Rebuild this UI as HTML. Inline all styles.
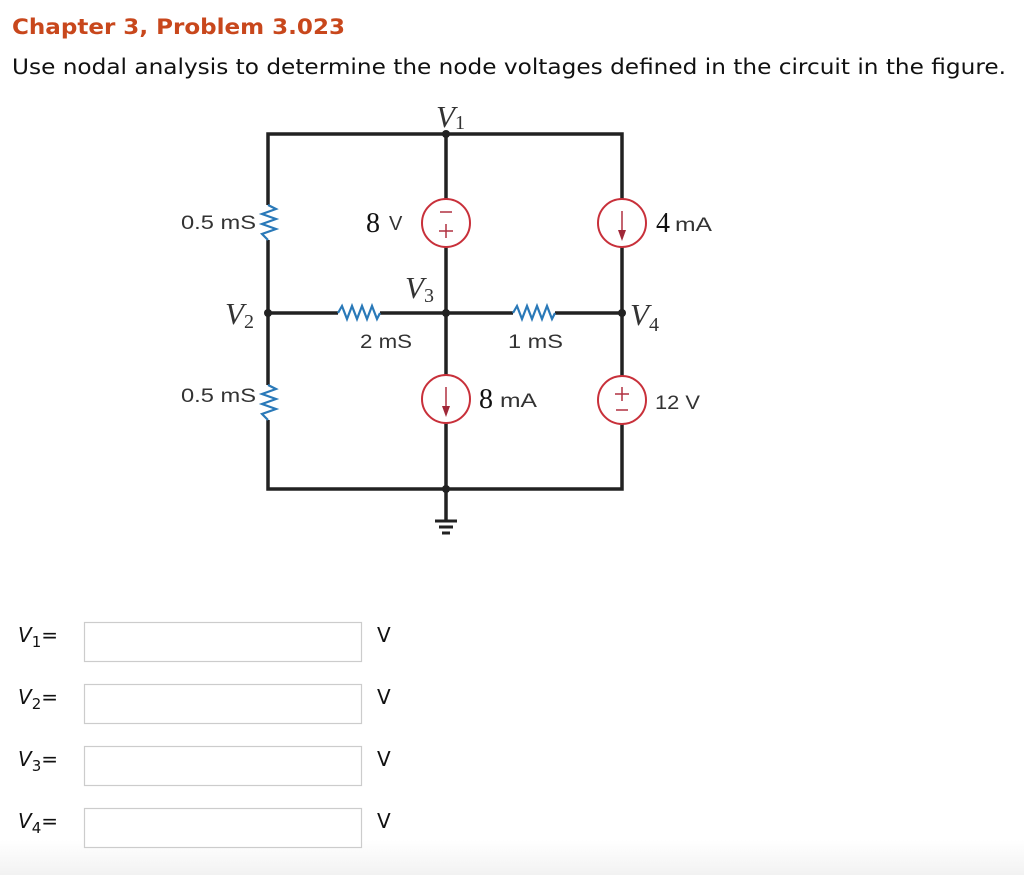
<!DOCTYPE html>
<html><head><meta charset="utf-8"><style>
html,body{margin:0;padding:0;background:#fff;}
svg{display:block;}
</style></head><body>
<svg width="1024" height="875" xmlns="http://www.w3.org/2000/svg">
<defs><linearGradient id="g" x1="0" y1="0" x2="0" y2="1"><stop offset="0" stop-color="#fff"/><stop offset="1" stop-color="#f2f2f2"/></linearGradient></defs>
<rect x="0" y="840" width="1024" height="35" fill="url(#g)"/>
<text x="12" y="34" font-family="DejaVu Sans, sans-serif" font-weight="bold" font-size="21" fill="#c8471c" textLength="333" lengthAdjust="spacingAndGlyphs">Chapter 3, Problem 3.023</text>
<text x="12" y="74" font-family="DejaVu Sans, sans-serif" font-size="21" fill="#111" textLength="994" lengthAdjust="spacingAndGlyphs">Use nodal analysis to determine the node voltages defined in the circuit in the figure.</text>
<g stroke="#222" stroke-width="3.5" fill="none">
<polyline points="268,205 268,134 622,134 622,199"/>
<line x1="446" y1="134" x2="446" y2="199"/>
<line x1="268" y1="240" x2="268" y2="385"/>
<polyline points="268,420 268,489 622,489 622,424"/>
<line x1="446" y1="247" x2="446" y2="375"/>
<line x1="446" y1="423" x2="446" y2="520"/>
<line x1="622" y1="247" x2="622" y2="376"/>
<line x1="268" y1="313" x2="338" y2="313"/>
<line x1="380" y1="313" x2="513" y2="313"/>
<line x1="555" y1="313" x2="622" y2="313"/>
</g>
<g stroke="#222" stroke-width="3"><line x1="435" y1="521" x2="457" y2="521"/><line x1="439" y1="527" x2="453" y2="527"/><line x1="442" y1="533" x2="450" y2="533"/></g>
<g fill="#222"><circle cx="446" cy="134" r="4"/><circle cx="268" cy="313" r="4"/><circle cx="446" cy="313" r="4"/><circle cx="622" cy="313" r="4"/><circle cx="446" cy="489" r="4"/></g>
<g stroke="#2a79b8" stroke-width="2.2" fill="none">
<polyline points="268,205 276,209 262,214 276,219 262,224 276,229 262,234 268,240"/>
<polyline points="268,385 276,389 262,394 276,399 262,404 276,409 262,414 268,420"/>
<polyline points="338,313 342,306 347,319 352,306 357,319 362,306 367,319 372,306 377,319 380,313"/>
<polyline points="513,313 517,306 522,319 527,306 532,319 537,306 542,319 547,306 552,319 555,313"/>
</g>
<g stroke="#c8303a" stroke-width="2" fill="#fff">
<circle cx="446" cy="223" r="24"/><circle cx="622" cy="223" r="24"/><circle cx="446" cy="399" r="24"/><circle cx="622" cy="400" r="24"/>
</g>
<g stroke="#b03040" stroke-width="1.5">
<line x1="440" y1="212" x2="452" y2="212"/><line x1="439" y1="231" x2="453" y2="231"/><line x1="446" y1="224" x2="446" y2="238"/>
<line x1="622" y1="211" x2="622" y2="232"/><line x1="446" y1="387" x2="446" y2="408"/>
<line x1="615" y1="394" x2="629" y2="394"/><line x1="622" y1="387" x2="622" y2="401"/><line x1="616" y1="410" x2="628" y2="410"/>
</g>
<g fill="#a02838"><polygon points="618,230 626,230 622,241"/><polygon points="442,406 450,406 446,417"/></g>
<g font-family="Liberation Sans, sans-serif" font-size="19" fill="#333" lengthAdjust="spacingAndGlyphs">
<text x="181" y="229" textLength="75" lengthAdjust="spacingAndGlyphs">0.5 mS</text><text x="181" y="402" textLength="75" lengthAdjust="spacingAndGlyphs">0.5 mS</text>
<text x="360" y="348" textLength="52" lengthAdjust="spacingAndGlyphs">2 mS</text><text x="508" y="348" textLength="55" lengthAdjust="spacingAndGlyphs">1 mS</text>
<text x="655" y="409" textLength="45" lengthAdjust="spacingAndGlyphs">12 V</text>
<text x="389" y="230" font-size="20">V</text>
<text x="675" y="231" textLength="37" lengthAdjust="spacingAndGlyphs">mA</text><text x="500" y="407" textLength="37" lengthAdjust="spacingAndGlyphs">mA</text>
</g>
<g font-family="Liberation Serif, serif" fill="#111">
<text x="366" y="232" font-size="28">8</text><text x="656" y="232" font-size="28">4</text><text x="479" y="408" font-size="28">8</text>
</g>
<g font-family="Liberation Serif, serif" font-style="italic" font-size="31" fill="#333">
<text x="436" y="127">V<tspan font-size="20" font-style="normal" dy="2">1</tspan></text>
<text x="225" y="324">V<tspan font-size="20" font-style="normal" dy="4">2</tspan></text>
<text x="405" y="298">V<tspan font-size="20" font-style="normal" dy="4">3</tspan></text>
<text x="630" y="325">V<tspan font-size="20" font-style="normal" dy="6">4</tspan></text>
</g>
<g font-family="DejaVu Sans, sans-serif" font-size="20" fill="#111">
<text x="18" y="642"><tspan font-style="italic">V</tspan><tspan font-size="15" dy="5">1</tspan><tspan dy="-5">=</tspan></text>
<text x="18" y="704"><tspan font-style="italic">V</tspan><tspan font-size="15" dy="5">2</tspan><tspan dy="-5">=</tspan></text>
<text x="18" y="766"><tspan font-style="italic">V</tspan><tspan font-size="15" dy="5">3</tspan><tspan dy="-5">=</tspan></text>
<text x="18" y="828"><tspan font-style="italic">V</tspan><tspan font-size="15" dy="5">4</tspan><tspan dy="-5">=</tspan></text>
<text x="377" y="642">V</text><text x="377" y="704">V</text><text x="377" y="766">V</text><text x="377" y="828">V</text>
</g>
<g fill="#fff" stroke="#ccc" stroke-width="1.2">
<rect x="84.5" y="622.5" width="277" height="39"/>
<rect x="84.5" y="684.5" width="277" height="39"/>
<rect x="84.5" y="746.5" width="277" height="39"/>
<rect x="84.5" y="808.5" width="277" height="39"/>
</g>
</svg>
</body></html>
